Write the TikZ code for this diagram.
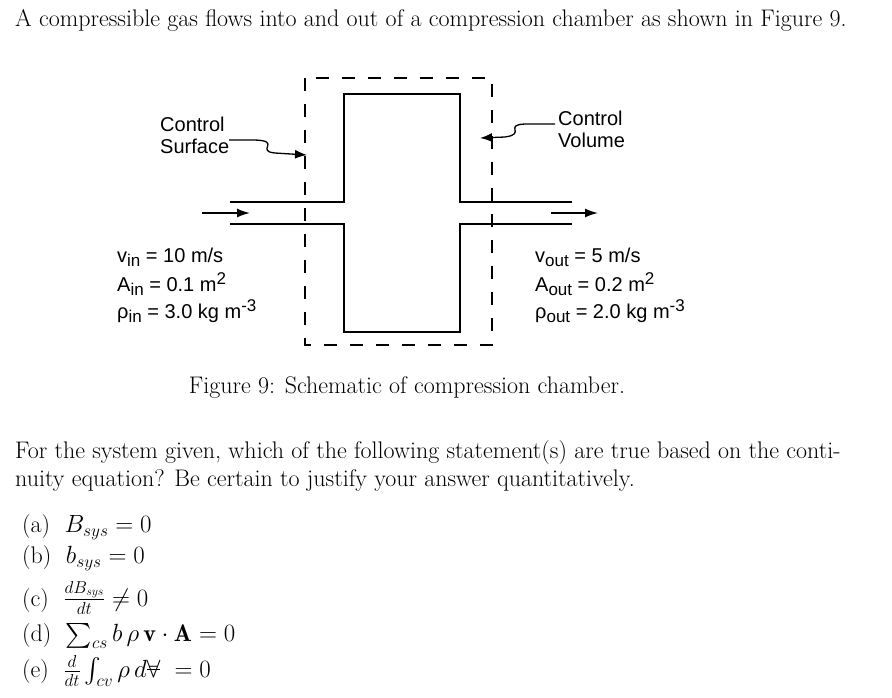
\documentclass[tikz,border=0pt]{standalone}
\usepackage{fontspec}
\usepackage{amsmath}
\setsansfont{Liberation Sans}
\usetikzlibrary{arrows.meta}
\newcommand{\volbar}{\mbox{\ooalign{$\forall$\cr\hfil\rule[0.75ex]{0.55em}{0.5pt}\hfil}}}
\newcommand{\sbs}[1]{\raisebox{-0.4ex}{\fontsize{17}{17}\selectfont #1}}
\newcommand{\sps}[1]{\raisebox{0.7ex}{\fontsize{17}{17}\selectfont #1}}
\begin{document}
\begin{tikzpicture}[x=1pt,y=-1pt,
  wall/.style={line width=1.6pt},
  cv/.style={line width=1.3pt,dash pattern=on 13pt off 13pt},
  flow/.style={line width=1.6pt,-{Latex[length=13pt,width=9pt]}},
  lbl/.style={font=\sffamily\fontsize{20}{20}\selectfont,anchor=west,inner sep=0},
  txt/.style={font=\fontsize{24}{28}\selectfont,anchor=west,inner sep=0},
  item/.style={font=\fontsize{24}{28}\selectfont,anchor=west,inner sep=0}]
\useasboundingbox (0,0) rectangle (892,697);
\fill[white] (0,0) rectangle (892,697);
\node[txt] (t1) at (15,20) {A compressible gas flows into and out of a compression chamber as shown in Figure 9.};
\draw[cv] (305,78) rectangle (492,345);
\draw[wall] (230,202) -- (344,202) -- (344,94) -- (460,94) -- (460,202) -- (572,202);
\draw[wall] (230,224) -- (344,224) -- (344,332) -- (460,332) -- (460,224) -- (572,224);
\coordinate (ia) at (202,213); \coordinate (ib) at (250,213);
\coordinate (oa) at (551,213); \coordinate (ob) at (598,213);
\draw[flow] (ia) -- (ib);
\draw[flow] (oa) -- (ob);
\node[lbl] (cs1) at (160,124) {Control};
\node[lbl] (cs2) at (160,146) {Surface};
\node[lbl] (cv1) at (558,118) {Control};
\node[lbl] (cv2) at (558,140) {Volume};
\coordinate (cst) at (307,155);
\coordinate (cvt) at (480,138);
\draw[line width=1.3pt,-{Latex[length=12pt,width=9pt]}] (229,140) -- (255,140) .. controls (282,141) and (255,151) .. (275,153) -- (cst);
\draw[line width=1.3pt,-{Latex[length=12pt,width=9pt]}] (555,124) -- (525,124) .. controls (503,125) and (527,134) .. (505,137) -- (cvt);
\node[lbl] (l1) at (117,257) {v\sbs{in} = 10 m/s};
\node[lbl] (l2) at (117,284) {A\sbs{in} = 0.1 m\sps{2}};
\node[lbl] (l3) at (117,311) {ρ\sbs{in} = 3.0 kg m\sps{-3}};
\node[lbl] (r1) at (535,257) {v\sbs{out} = 5 m/s};
\node[lbl] (r2) at (535,284) {A\sbs{out} = 0.2 m\sps{2}};
\node[lbl] (r3) at (535,311) {ρ\sbs{out} = 2.0 kg m\sps{-3}};
\node[txt,anchor=center] (cap) at (407,388) {Figure 9: Schematic of compression chamber.};
\node[txt] (p1) at (15,453) {For the system given, which of the following statement(s) are true based on the conti-};
\node[txt] (p2) at (15,481) {nuity equation? Be certain to justify your answer quantitatively.};
\node[item] (a) at (22,527) {(a)\ \ $B_{sys}=0$};
\node[item] (b) at (22,558) {(b)\ \ $b_{sys}=0$};
\node[item] (c) at (22,598) {(c)\ \ $\frac{dB_{sys}}{dt}\neq 0$};
\node[item] (d) at (22,636) {(d)\ \ $\sum_{cs} b\,\rho\,\mathbf{v}\cdot\mathbf{A}=0$};
\node[item] (e) at (22,671) {(e)\ \ $\frac{d}{dt}\int_{cv}\rho\, d\volbar\ =0$};
\end{tikzpicture}
\end{document}
